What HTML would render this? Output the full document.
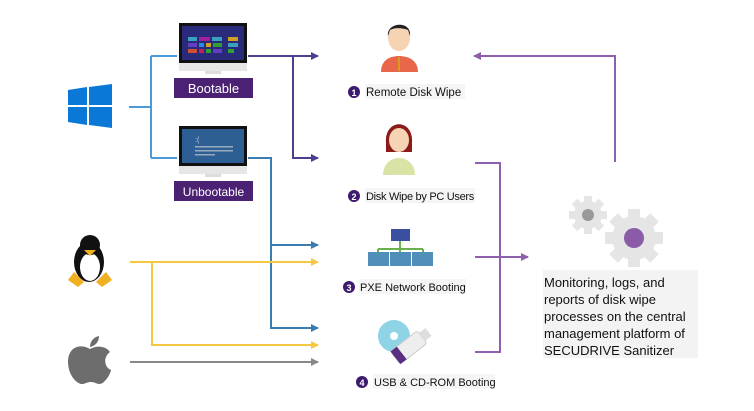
<!DOCTYPE html>
<html><head><meta charset="utf-8"><style>
html,body{margin:0;padding:0;background:#fff;}
svg{display:block;font-family:"Liberation Sans",sans-serif;}
</style></head><body>
<svg width="754" height="411" viewBox="0 0 754 411" xmlns="http://www.w3.org/2000/svg">
<defs>
<marker id="ab" markerWidth="8" markerHeight="8" refX="7" refY="4" orient="auto" markerUnits="userSpaceOnUse"><path d="M0,0 L8,4 L0,8z" fill="#3b7db0"/></marker>
<marker id="ap" markerWidth="8" markerHeight="8" refX="7" refY="4" orient="auto" markerUnits="userSpaceOnUse"><path d="M0,0 L8,4 L0,8z" fill="#4b3f8f"/></marker>
<marker id="ay" markerWidth="8" markerHeight="8" refX="7" refY="4" orient="auto" markerUnits="userSpaceOnUse"><path d="M0,0 L8,4 L0,8z" fill="#f5c842"/></marker>
<marker id="ag" markerWidth="8" markerHeight="8" refX="7" refY="4" orient="auto" markerUnits="userSpaceOnUse"><path d="M0,0 L8,4 L0,8z" fill="#888"/></marker>
<marker id="av" markerWidth="8" markerHeight="8" refX="7" refY="4" orient="auto" markerUnits="userSpaceOnUse"><path d="M0,0 L8,4 L0,8z" fill="#8e5fad"/></marker>
</defs>
<!-- windows logo -->
<g fill="#0a78d7">
<polygon points="68,90 87,87 87,105 68,105"/>
<polygon points="89,87 112,84 112,105 89,105"/>
<polygon points="68,107 87,107 87,125 68,122"/>
<polygon points="89,107 112,107 112,128 89,125"/>
</g>
<!-- windows lines -->
<g stroke="#4a9ad8" stroke-width="2" fill="none">
<path d="M129,107 H151 M151,56 V158 M151,56 H177 M151,158 H177"/>
</g>
<!-- monitors -->
<rect x="179" y="23" width="68" height="40" fill="#111"/>
<rect x="182" y="26" width="62" height="34" fill="#2a2a7a"/>
<g>
<rect x="188" y="37" width="9" height="4" fill="#3aa0c0"/><rect x="199" y="37" width="11" height="4" fill="#a020a0"/><rect x="212" y="37" width="10" height="4" fill="#3aa0c0"/><rect x="228" y="37" width="10" height="4" fill="#d0a020"/>
<rect x="188" y="43" width="9" height="4" fill="#6040c0"/><rect x="199" y="43" width="5" height="4" fill="#2090e0"/><rect x="206" y="43" width="5" height="4" fill="#d0a020"/><rect x="213" y="43" width="9" height="4" fill="#30a030"/><rect x="228" y="43" width="10" height="4" fill="#3aa0c0"/>
<rect x="188" y="49" width="9" height="4" fill="#d05030"/><rect x="199" y="49" width="5" height="4" fill="#c02060"/><rect x="206" y="49" width="5" height="4" fill="#30a030"/><rect x="213" y="49" width="9" height="4" fill="#6040c0"/><rect x="228" y="49" width="6" height="4" fill="#30a030"/>
</g>
<rect x="179" y="63" width="68" height="8" fill="#e6e6e6"/><rect x="205" y="71" width="16" height="3" fill="#ddd"/>
<rect x="174" y="78" width="79" height="20" fill="#4b2173"/>
<text x="213.5" y="93" text-anchor="middle" font-size="13" fill="#fff">Bootable</text>
<rect x="179" y="126" width="68" height="40" fill="#111"/>
<rect x="182" y="129" width="62" height="34" fill="#2d5f94"/>
<rect x="195" y="146" width="38" height="1.5" fill="#9ab"/><rect x="195" y="150" width="38" height="1.5" fill="#9ab"/><rect x="195" y="154" width="20" height="1.5" fill="#9ab"/>
<text x="195" y="142" font-size="7" fill="#ccd">:(</text>
<rect x="179" y="166" width="68" height="8" fill="#e6e6e6"/><rect x="205" y="174" width="16" height="3" fill="#ddd"/>
<rect x="174" y="181" width="79" height="20" fill="#4b2173"/>
<text x="213.5" y="196" text-anchor="middle" font-size="12" fill="#fff">Unbootable</text>
<!-- bootable purple -->
<g stroke="#4b3f8f" stroke-width="2" fill="none">
<path d="M248,56 H318" marker-end="url(#ap)"/>
<path d="M293,56 V158 H318" marker-end="url(#ap)"/>
</g>
<!-- unbootable blue -->
<g stroke="#3b7db0" stroke-width="2" fill="none">
<path d="M248,158 H271 V328 H318" marker-end="url(#ab)"/>
<path d="M271,245 H318" marker-end="url(#ab)"/>
</g>
<!-- linux -->
<ellipse cx="89" cy="262" rx="15" ry="20" fill="#111"/>
<ellipse cx="90" cy="267" rx="10" ry="14" fill="#fff"/>
<ellipse cx="90" cy="245" rx="10" ry="10" fill="#111"/>
<polygon points="84,250 96,250 90,256" fill="#f0b020"/>
<polygon points="68,280 74,272 84,282 78,287" fill="#f0b020"/>
<polygon points="112,280 106,272 96,282 102,287" fill="#f0b020"/>
<g stroke="#f5c842" stroke-width="2" fill="none">
<path d="M130,262 H318" marker-end="url(#ay)"/>
<path d="M152,262 V345 H318" marker-end="url(#ay)"/>
</g>
<!-- apple -->
<path d="M90,349 C80,343 68,347 68,362 C68,375 77,385 83,384 C87,383 88,382 91,382 C95,382 96,384 100,384 C105,383 110,375 111,370 C104,367 103,357 110,352 C106,346 97,345 90,349z" fill="#6d6d6d"/>
<path d="M90,347 C90,341 94,337 99,336 C99,342 95,346 90,347z" fill="#6d6d6d"/>
<path d="M130,362 H318" stroke="#888" stroke-width="2" fill="none" marker-end="url(#ag)"/>
<!-- person 1 -->
<ellipse cx="399" cy="38" rx="11" ry="13" fill="#f6d3b3"/>
<path d="M388,36 C386,22 412,20 410,36 L408,30 C400,27 394,28 390,30z" fill="#222"/>
<path d="M381,72 C381,60 390,56 399,56 C408,56 418,60 418,72z" fill="#e8674a"/>
<rect x="398" y="57" width="2" height="14" fill="#d99a20"/>
<!-- person 2 -->
<path d="M386,143 C384,118 414,118 412,143 L412,152 L386,152z" fill="#8b1a1a"/>
<ellipse cx="399" cy="140" rx="10" ry="12" fill="#f6d3b3"/>
<path d="M383,175 C383,164 391,158 399,158 C407,158 415,164 415,175z" fill="#d9e3a6"/>
<!-- labels -->
<g font-size="11.5" fill="#111">
<circle cx="354" cy="92" r="6" fill="#3e1a6e"/><text x="354" y="96" font-size="9" font-weight="bold" fill="#fff" text-anchor="middle">1</text>
<rect x="365" y="84" width="100" height="15" fill="#f5f5f5"/><text x="366" y="96">Remote  Disk Wipe</text>
<circle cx="354" cy="196" r="6" fill="#3e1a6e"/><text x="354" y="200" font-size="9" font-weight="bold" fill="#fff" text-anchor="middle">2</text>
<rect x="365" y="188" width="110" height="15" fill="#f5f5f5"/><text x="366" y="200" font-size="11" letter-spacing="-0.3">Disk Wipe by PC Users</text>
<circle cx="349" cy="287" r="6" fill="#3e1a6e"/><text x="349" y="291" font-size="9" font-weight="bold" fill="#fff" text-anchor="middle">3</text>
<rect x="359" y="279" width="107" height="15" fill="#f5f5f5"/><text x="360" y="291" font-size="11">PXE Network Booting</text>
<circle cx="362" cy="382" r="6" fill="#3e1a6e"/><text x="362" y="386" font-size="9" font-weight="bold" fill="#fff" text-anchor="middle">4</text>
<rect x="373" y="374" width="122" height="15" fill="#f5f5f5"/><text x="374" y="386" font-size="11">USB &amp; CD-ROM Booting</text>
</g>
<!-- network icon -->
<rect x="391" y="229" width="19" height="12" fill="#3a4fa0"/>
<path d="M400,241 V249 M378,249 H423 M378,249 V253 M400,249 V253 M423,249 V253" stroke="#6ab04c" stroke-width="2"/>
<rect x="368" y="252" width="21" height="14" fill="#4f8fb8"/><rect x="390" y="252" width="21" height="14" fill="#4f8fb8"/><rect x="412" y="252" width="21" height="14" fill="#4f8fb8"/>
<!-- usb/cd -->
<circle cx="394" cy="336" r="16" fill="#8fd4e6"/><circle cx="394" cy="336" r="4" fill="#fff"/>
<g transform="rotate(-38 408 348)"><rect x="392" y="340" width="34" height="16" rx="3" fill="#eee" stroke="#ccc"/><rect x="392" y="340" width="8" height="16" fill="#5a2d82"/><rect x="426" y="343" width="8" height="10" fill="#ddd"/></g>
<!-- purple lines right -->
<g stroke="#8e5fad" stroke-width="2" fill="none">
<path d="M475,163 H500 V352 H475"/>
<path d="M475,257 H528" marker-end="url(#av)"/>
<path d="M615,162 V56 H474" marker-end="url(#av)"/>
</g>
<!-- gears -->
<g fill="#e5e5e5">
<circle cx="588" cy="215" r="14"/>
<g transform="translate(588,215)"><rect x="-4" y="-19" width="8" height="38"/><rect x="-19" y="-4" width="38" height="8"/><rect x="-4" y="-19" width="8" height="38" transform="rotate(45)"/><rect x="-4" y="-19" width="8" height="38" transform="rotate(-45)"/></g>
<circle cx="634" cy="238" r="22"/>
<g transform="translate(634,238)"><rect x="-6" y="-29" width="12" height="58"/><rect x="-29" y="-6" width="58" height="12"/><rect x="-6" y="-29" width="12" height="58" transform="rotate(45)"/><rect x="-6" y="-29" width="12" height="58" transform="rotate(-45)"/></g>
</g>
<circle cx="588" cy="215" r="6" fill="#999"/>
<circle cx="634" cy="238" r="10" fill="#8b5ba8"/>
<!-- text box -->
<rect x="543" y="270" width="155" height="88" fill="#f3f3f3"/>
<g font-size="13" fill="#111">
<text x="544" y="287">Monitoring, logs, and</text>
<text x="544" y="304">reports of disk wipe</text>
<text x="544" y="321">processes on the central</text>
<text x="544" y="338">management platform of</text>
<text x="544" y="355">SECUDRIVE Sanitizer</text>
</g>
</svg>
</body></html>
